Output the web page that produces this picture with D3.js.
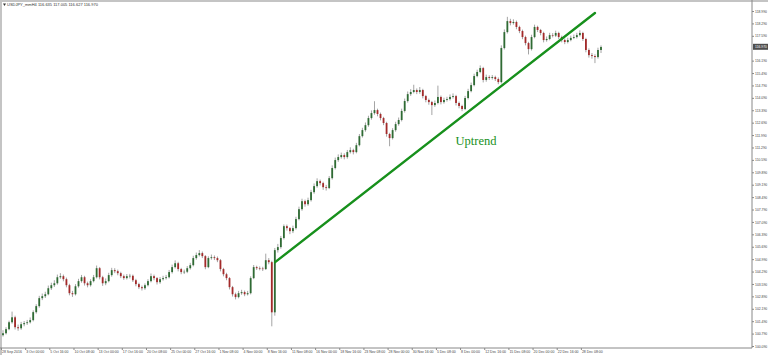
<!DOCTYPE html>
<html>
<head>
<meta charset="utf-8">
<script src="https://cdnjs.cloudflare.com/ajax/libs/d3/7.8.5/d3.min.js"></script>
<style>
  body { margin: 0; background: #fff; }
  svg { display: block; font-family: "Liberation Sans", Arial, sans-serif; }
</style>
</head>
<body>
<div id="chart"></div>
<script>
var width = 768, height = 355;
var plot = {left: 2, top: 2, right: 752, bottom: 348};

var title = "USDJPY_mmH4  116.635 117.005 116.627 116.970";
var firstOpen = 100.70;
var lastPrice = 116.97;

// 8-hour candles, 28 Sep .. 30 Dec 2016
var closes = [
  100.81,101.04,101.43,101.71,101.15,101.09,101.32,101.38,101.43,101.55,
  102.00,102.34,102.79,102.90,103.01,103.35,103.52,103.63,103.97,104.03,
  103.86,103.52,103.07,103.01,103.46,103.75,103.97,103.63,103.52,103.75,
  103.97,104.48,103.97,103.63,103.75,104.09,104.37,104.31,104.20,104.03,
  103.92,104.03,104.05,103.80,103.58,103.41,103.35,103.52,103.75,104.03,
  103.92,103.69,103.86,103.92,103.97,104.26,104.54,104.76,104.43,104.26,
  104.28,104.48,104.65,105.05,105.22,105.33,105.16,104.54,105.05,105.10,
  105.05,104.93,104.43,104.14,103.92,103.41,103.01,102.85,103.07,103.13,
  103.01,103.07,103.92,104.54,104.48,104.46,104.43,104.93,104.82,101.99,
  105.50,105.67,106.18,106.85,106.74,106.57,106.74,107.25,107.81,108.26,
  108.09,108.32,108.77,109.11,109.39,109.28,109.05,109.00,109.56,110.13,
  110.58,110.75,110.86,110.75,111.03,111.14,111.03,111.42,111.93,112.27,
  112.55,112.95,113.23,113.40,113.18,112.95,112.67,112.05,111.82,112.27,
  112.61,112.84,113.35,113.91,114.30,114.42,114.53,114.42,114.53,114.19,
  113.97,113.85,113.68,113.80,114.14,113.85,113.97,114.02,114.14,114.19,
  113.80,113.63,113.46,114.08,114.47,114.81,115.32,115.55,115.77,115.10,
  115.26,115.21,115.26,115.15,114.98,116.90,117.80,118.42,118.31,118.37,
  118.09,117.86,117.52,117.18,116.84,117.52,118.09,117.92,117.75,117.35,
  117.41,117.63,117.60,117.75,117.52,117.35,117.24,117.35,117.47,117.52,
  117.63,117.75,117.41,116.79,116.50,116.45,116.39,116.79,116.96
];
var highs = [
  100.98,101.15,101.52,102.03,101.80,101.30,101.45,101.50,101.56,101.70,
  102.10,102.45,102.92,103.05,103.15,103.50,103.66,103.80,104.12,104.20,
  104.12,103.95,103.60,103.20,103.58,103.88,104.10,104.05,103.72,103.86,
  104.10,104.63,104.55,104.05,103.90,104.22,104.50,104.48,104.40,104.28,
  104.12,104.15,104.16,104.12,103.88,103.66,103.50,103.62,103.86,104.18,
  104.12,103.98,103.98,104.05,104.10,104.38,104.68,104.92,104.84,104.50,
  104.40,104.60,104.78,105.18,105.36,105.50,105.42,105.22,105.15,105.25,
  105.20,105.14,105.00,104.50,104.22,103.98,103.48,103.10,103.20,103.26,
  103.22,103.20,104.02,104.66,104.62,104.58,104.56,105.30,105.05,104.90,
  105.62,105.85,106.30,106.95,106.94,106.80,106.88,107.38,107.95,108.40,
  108.35,108.46,108.90,109.26,109.55,109.48,109.36,109.18,109.68,110.28,
  110.72,110.90,111.00,110.96,111.15,111.30,111.22,111.55,112.05,112.40,
  112.70,113.08,113.38,113.90,113.48,113.26,113.02,112.74,112.12,112.38,
  112.74,112.98,113.48,114.05,114.45,114.58,114.83,114.62,114.70,114.60,
  114.26,114.05,113.92,113.94,114.78,114.22,114.10,114.15,114.28,114.34,
  114.26,113.88,113.70,114.20,114.60,114.95,115.45,115.68,115.92,115.84,
  115.40,115.36,115.38,115.34,115.24,117.05,117.95,118.66,118.55,118.52,
  118.45,118.16,117.94,117.60,117.25,117.65,118.22,118.16,117.98,117.82,
  117.55,117.76,117.74,117.88,117.82,117.60,117.44,117.48,117.60,117.66,
  117.76,117.90,117.82,117.48,116.88,116.62,116.55,116.92,117.05
];
var lows = [
  100.62,100.74,100.98,101.35,101.02,100.95,101.00,101.20,101.28,101.36,
  101.48,101.92,102.25,102.68,102.80,102.95,103.25,103.42,103.55,103.88,
  103.74,103.40,102.95,102.86,102.94,103.38,103.66,103.50,103.40,103.44,
  103.68,103.90,103.85,103.48,103.52,103.68,104.00,104.20,104.08,103.92,
  103.82,103.84,103.90,103.70,103.46,103.30,103.22,103.26,103.45,103.68,
  103.80,103.56,103.60,103.78,103.84,103.90,104.18,104.46,104.30,104.14,
  104.15,104.20,104.40,104.58,104.96,105.14,105.05,104.42,104.48,104.96,
  104.94,104.82,104.30,104.02,103.80,103.28,102.88,102.72,102.78,102.98,
  102.90,102.94,103.00,103.86,104.38,104.36,104.32,104.38,104.70,101.20,
  101.80,105.36,105.58,106.10,106.60,106.40,106.46,106.66,107.18,107.72,
  107.95,108.00,108.24,108.68,109.02,109.15,108.90,108.86,108.94,109.48,
  110.05,110.48,110.66,110.62,110.66,110.95,110.90,110.96,111.35,111.85,
  112.18,112.46,112.86,113.14,113.05,112.82,112.55,111.90,111.36,111.74,
  112.18,112.52,112.76,113.26,113.82,114.20,114.34,114.30,114.32,114.06,
  113.84,113.70,113.12,113.58,113.72,113.72,113.76,113.88,113.94,114.05,
  113.66,113.50,113.34,113.40,114.00,114.40,114.74,115.25,115.48,114.96,
  115.00,115.10,115.12,115.04,114.86,114.90,116.82,117.72,118.18,118.22,
  117.96,117.74,117.40,117.05,116.54,116.76,117.45,117.80,117.62,117.22,
  117.26,117.34,117.50,117.52,117.40,117.22,117.12,117.16,117.28,117.40,
  117.44,117.55,117.30,116.66,116.36,116.30,116.05,116.30,116.62
];

var yTickLabels = [
  "118.990","118.290","117.590","116.890","116.190","115.490","114.790",
  "114.090","113.390","112.690","111.990","111.290","110.590","109.890",
  "109.190","108.490","107.790","107.090","106.390","105.690","104.990",
  "104.290","103.590","102.890","102.190","101.490","100.790","100.090"
];
var xTickLabels = [
  "28 Sep 2016","3 Oct 00:00","5 Oct 16:00","10 Oct 08:00","13 Oct 00:00",
  "17 Oct 16:00","20 Oct 08:00","25 Oct 00:00","27 Oct 16:00","1 Nov 08:00",
  "4 Nov 00:00","8 Nov 16:00","11 Nov 08:00","16 Nov 00:00","18 Nov 16:00",
  "23 Nov 08:00","28 Nov 00:00","30 Nov 16:00","5 Dec 08:00","8 Dec 00:00",
  "12 Dec 16:00","15 Dec 08:00","20 Dec 00:00","22 Dec 16:00","28 Dec 08:00"
];
var xTickEvery = 8; // one label every 8 candles

// trend line end points: [candle index, price]
var trendLine = [[90.1, 104.82], [196.0, 118.88]];
var trendLabel = {text: "Uptrend", i: 156.6, price: 111.42};

var candles = closes.map(function(c, i) {
  return {i: i, o: i ? closes[i - 1] : firstOpen, h: highs[i], l: lows[i], c: c};
});

var x = d3.scaleLinear().domain([0, closes.length - 1]).range([3, 601]);
var y = d3.scaleLinear().domain([100.09, 118.99]).range([346, 11]);

var svg = d3.select("#chart").append("svg")
    .attr("width", width)
    .attr("height", height);

// frame
svg.append("rect").attr("x", 0).attr("y", 0).attr("width", width).attr("height", height).attr("fill", "#fff");
svg.append("path")
    .attr("d", "M1," + height + "V1H" + width)
    .attr("fill", "none").attr("stroke", "#c4c4c4").attr("stroke-width", 2);

// candles
var g = svg.append("g");
g.selectAll("line.wick")
  .data(candles)
  .enter().append("line")
    .attr("x1", function(d) { return x(d.i); })
    .attr("x2", function(d) { return x(d.i); })
    .attr("y1", function(d) { return y(d.h); })
    .attr("y2", function(d) { return y(d.l); })
    .attr("stroke", "#9a9a9a")
    .attr("stroke-width", 0.9);

g.selectAll("rect.body")
  .data(candles)
  .enter().append("rect")
    .attr("x", function(d) { return x(d.i) - 0.9; })
    .attr("y", function(d) { return y(Math.max(d.o, d.c)); })
    .attr("width", 1.8)
    .attr("height", function(d) { return Math.max(0.6, Math.abs(y(d.o) - y(d.c))); })
    .attr("fill", function(d) { return d.c >= d.o ? "#2f6b34" : "#a32a2a"; });

// trend line + label
svg.append("line")
    .attr("x1", x(trendLine[0][0])).attr("y1", y(trendLine[0][1]))
    .attr("x2", x(trendLine[1][0])).attr("y2", y(trendLine[1][1]))
    .attr("stroke", "#17901c")
    .attr("stroke-width", 2.4)
    .attr("stroke-linecap", "round");

svg.append("text")
    .attr("x", x(trendLabel.i))
    .attr("y", y(trendLabel.price))
    .attr("text-anchor", "middle")
    .attr("font-family", "'Liberation Serif', 'Times New Roman', serif")
    .attr("font-size", 12.5)
    .attr("fill", "#17901c")
    .text(trendLabel.text);

// right price axis (the label under the last-price box is hidden, as in the terminal)
var yTicks = yTickLabels.filter(function(t) { return Math.abs(y(+t) - y(lastPrice)) > 5; });
var yAxis = d3.axisRight(y)
    .tickValues(yTicks.map(Number))
    .tickFormat(function(d, i) { return yTicks[i]; })
    .tickSize(2)
    .tickPadding(1);

var ya = svg.append("g")
    .attr("transform", "translate(" + plot.right + ",0)")
    .call(yAxis);
ya.select(".domain").attr("stroke", "#888").attr("d", "M0,0V" + plot.bottom);
ya.selectAll(".tick line").attr("stroke", "#888");
ya.selectAll(".tick text")
    .attr("font-size", 3.4).attr("fill", "#444")
    .attr("font-family", "'Liberation Sans', Arial, sans-serif");

// bottom time axis
var xAxis = d3.axisBottom(x)
    .tickValues(xTickLabels.map(function(d, i) { return i * xTickEvery; }))
    .tickFormat(function(d, i) { return xTickLabels[i]; })
    .tickSize(2)
    .tickPadding(1);

var xa = svg.append("g")
    .attr("transform", "translate(0," + plot.bottom + ")")
    .call(xAxis);
xa.select(".domain").attr("stroke", "#888").attr("d", "M0,0H" + plot.right);
xa.selectAll(".tick line").attr("stroke", "#888").attr("transform", "translate(-2,0)");
xa.selectAll(".tick text")
    .attr("font-size", 3.5).attr("fill", "#444")
    .attr("font-family", "'Liberation Sans', Arial, sans-serif")
    .attr("text-anchor", "start")
    .attr("x", -1.5);

// last price marker
svg.append("rect")
    .attr("x", plot.right + 1).attr("y", y(lastPrice) - 3)
    .attr("width", width - plot.right - 1).attr("height", 6)
    .attr("fill", "#4d4d4d");
svg.append("text")
    .attr("x", plot.right + 3).attr("y", y(lastPrice) + 1.3)
    .attr("font-size", 3.4).attr("fill", "#fff")
    .text(lastPrice.toFixed(3));

// header
svg.append("path")
    .attr("d", "M3,3.5h3l-1.5,2.5z")
    .attr("fill", "#333");
svg.append("text")
    .attr("x", 7).attr("y", 6)
    .attr("font-size", 4).attr("fill", "#333")
    .text(title);
</script>
</body>
</html>
